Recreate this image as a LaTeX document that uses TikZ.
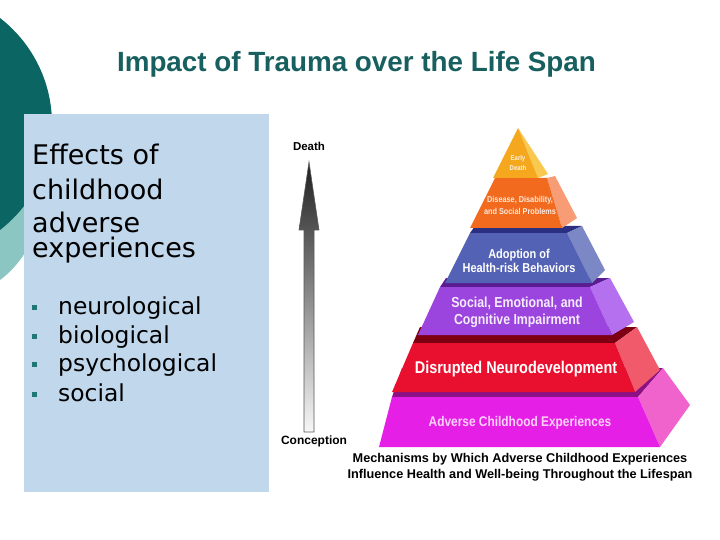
\documentclass[tikz,border=0pt]{standalone}
\usepackage{fontspec}
\setmainfont{Liberation Sans}
\newfontfamily\boxfont{DejaVu Sans}
\newfontfamily\pyrfont[FakeStretch=0.85]{Liberation Sans}
\newcommand{\fsz}[2]{\fontsize{#1}{#2}\selectfont}

\begin{document}
\begin{tikzpicture}[x=1pt, y=-1pt,
    boxhead/.style={font=\boxfont\fsz{27}{33}, inner sep=0pt, anchor=base west},
    boxitem/.style={font=\boxfont\fsz{23.4}{29}, inner sep=0pt, anchor=base west},
    pyrtext/.style={font=\pyrfont\bfseries, text=white, align=center, inner sep=0pt},
    lifelabel/.style={font=\bfseries, inner sep=0pt}]

    \definecolor{darkTeal}{HTML}{0B6663}
    \definecolor{lightTeal}{HTML}{8CC6C2}
    \definecolor{titleColour}{HTML}{17605F}
    \definecolor{boxColour}{HTML}{C0D7EC}
    \definecolor{bulletColour}{HTML}{1F7873}

    \definecolor{goldFront}{HTML}{F5A71E}
    \definecolor{goldSide}{HTML}{F9C84E}
    \definecolor{orangeFront}{HTML}{F26A1D}
    \definecolor{orangeSide}{HTML}{F79C74}
    \definecolor{blueFront}{HTML}{5362B4}
    \definecolor{blueSide}{HTML}{7C88C6}
    \definecolor{blueTop}{HTML}{2A2F82}
    \definecolor{purpleFront}{HTML}{9C44DE}
    \definecolor{purpleSide}{HTML}{B570F0}
    \definecolor{purpleTop}{HTML}{5B1C92}
    \definecolor{redFront}{HTML}{E8102E}
    \definecolor{redSide}{HTML}{F05A6A}
    \definecolor{redTop}{HTML}{7C0012}
    \definecolor{magentaFront}{HTML}{E61FE6}
    \definecolor{magentaSide}{HTML}{F062CC}
    \definecolor{magentaTop}{HTML}{8C1184}

    % Page frame
    \useasboundingbox (0,0) rectangle (720,540);
    \fill[white] (0,0) rectangle (720,540);

    % Corner circles
    \begin{scope}
        \clip (0,0) rectangle (720,540);
        \fill[lightTeal] (-60,200) circle (100);
        \fill[darkTeal] (-82,124) circle (134);
    \end{scope}

    % Title
    \node[font=\bfseries\fsz{27.8}{32}, text=titleColour, inner sep=0pt, anchor=base] (title) at (356.5,72) {Impact of Trauma over the Life Span};

    % Text box
    \fill[boxColour] (24,114) rectangle (269,492);
    \foreach \txt/\yy [count=\i] in {Effects of/165, childhood/200, adverse/233, experiences/258}
        \node[boxhead] (head\i) at (32,\yy) {\txt};
    \foreach \txt/\yy [count=\i] in {neurological/314, biological/343, psychological/371, social/401} {
        \fill[bulletColour] (32,\yy-9) rectangle (36.5,\yy-4.5);
        \node[boxitem] (item\i) at (58,\yy) {\txt};
    }

    % Life span arrow
    \coordinate (tip) at (309,162);
    \coordinate (base) at (309,432);
    \draw[gray!70!black, line width=0.6pt, top color=black!88, bottom color=black!3]
        (304,432) -- (304,230) -- (299,230) -- (tip) -- (319,230) -- (314,230) -- (314,432) -- cycle;
    \node[lifelabel, font=\bfseries\fsz{11.5}{12}] (death) at (309,146) {Death};
    \node[lifelabel, font=\bfseries\fsz{12}{13}] (conception) at (314,441) {Conception};

    % Pyramid, bottom layer first
    % Adverse childhood experiences
    \fill[magentaTop] (392,397) -- (638,397) -- (663,368) -- (402,368) -- cycle;
    \fill[magentaSide] (638,397) -- (663,368) -- (690,405) -- (660,447) -- cycle;
    \fill[magentaFront] (392,397) -- (379,447) -- (660,447) -- (638,397) -- cycle;
    % Disrupted neurodevelopment
    \fill[redTop] (413,343) -- (615,343) -- (637,327) -- (420,327) -- cycle;
    \fill[redSide] (615,343) -- (637,327) -- (660,370) -- (635,392) -- cycle;
    \fill[redFront] (413,343) -- (392,392) -- (635,392) -- (615,343) -- cycle;
    % Social, emotional and cognitive impairment
    \fill[purpleTop] (440,287) -- (590,287) -- (610,278) -- (446,278) -- cycle;
    \fill[purpleSide] (590,287) -- (610,278) -- (634,322) -- (612,335) -- cycle;
    \fill[purpleFront] (440,287) -- (418,335) -- (612,335) -- (590,287) -- cycle;
    % Health-risk behaviours
    \fill[blueTop] (470,233) -- (567,233) -- (582,226) -- (475,226) -- cycle;
    \fill[blueSide] (567,233) -- (582,226) -- (605,270) -- (592,283) -- cycle;
    \fill[blueFront] (470,233) -- (445,283) -- (592,283) -- (567,233) -- cycle;
    % Disease, disability and social problems
    \fill[orangeSide] (547,178) -- (555,176) -- (577,218) -- (562,228) -- cycle;
    \fill[orangeFront] (495,178) -- (470,228) -- (562,228) -- (547,178) -- cycle;
    % Early death
    \coordinate (apex) at (518,128);
    \fill[goldSide] (apex) -- (538,178) -- (548,174) -- cycle;
    \fill[goldFront] (apex) -- (493,178) -- (538,178) -- cycle;

    % Layer labels
    \node[pyrtext, font=\pyrfont\bfseries\fsz{7}{9.5}, text=white!85!goldFront] (early) at (518,163) {Early\\Death};
    \node[pyrtext, font=\pyrfont\bfseries\fsz{8.6}{12}, text=white!85!orangeFront] (disease) at (520,205) {Disease, Disability,\\and Social Problems};
    \node[pyrtext, font=\pyrfont\bfseries\fsz{12.9}{14.5}] (adoption) at (519,261) {Adoption of\\Health-risk Behaviors};
    \node[pyrtext, font=\pyrfont\bfseries\fsz{14.5}{17}, text=white!90!purpleFront] (social) at (517,312) {Social, Emotional, and\\Cognitive Impairment};
    \node[pyrtext, font=\pyrfont\bfseries\fsz{17}{19}] (neuro) at (516,369) {Disrupted Neurodevelopment};
    \node[pyrtext, font=\pyrfont\bfseries\fsz{14}{16}, text=white!80!magentaFront] (ace) at (520,423) {Adverse Childhood Experiences};

    % Caption
    \node[font=\bfseries\fsz{12.7}{16}, align=center, inner sep=0pt] (caption) at (520,467)
        {Mechanisms by Which Adverse Childhood Experiences\\Influence Health and Well-being Throughout the Lifespan};

\end{tikzpicture}
\end{document}
